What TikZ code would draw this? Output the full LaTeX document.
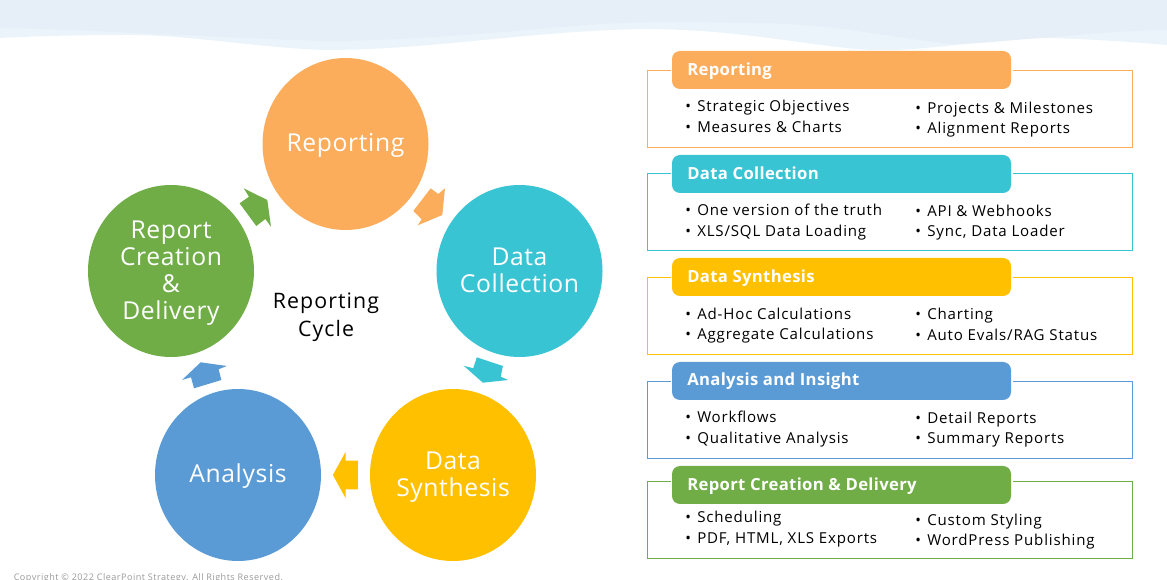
\documentclass[tikz,border=0pt]{standalone}
\usepackage{fontspec}
\setmainfont{Open Sans}
\usepackage{tikz}
\usetikzlibrary{shapes.geometric}
\definecolor{cporange}{HTML}{FBAD5C}
\definecolor{cpcyan}{HTML}{39C4D4}
\definecolor{cpyellow}{HTML}{FFC000}
\definecolor{cpblue}{HTML}{5B9BD5}
\definecolor{cpgreen}{HTML}{70AD47}
\definecolor{cpwavea}{HTML}{E6EEF8}
\definecolor{cpwaveb}{HTML}{EBF4FB}
\newcommand{\itemdot}{\makebox[9pt][l]{•}}
\tikzset{
    cyclenode/.style={ellipse, minimum width=124.5pt, minimum height=129pt, inner sep=0pt},
    cycletext/.style={align=center, text=white, inner sep=0pt, font=\fontsize{18.5}{20.3}\selectfont\addfontfeature{LetterSpace=2.5}},
    framebox/.style={draw=#1, line width=0.75pt},
    headbox/.style={fill=#1, rounded corners=6pt},
    headtext/.style={text=white, inner sep=0pt, font=\fontsize{12.5}{15}\selectfont\bfseries\addfontfeature{LetterSpace=2}, anchor=base west},
    itemtext/.style={font=\fontsize{11.3}{15}\selectfont\addfontfeature{LetterSpace=5.5}, anchor=base west, inner sep=0pt}
}
\begin{document}
\begin{tikzpicture}[x=0.75pt,y=0.75pt,yscale=-1,xscale=1]
\useasboundingbox (0,0) rectangle (1167,580);
%Wave
\fill[cpwaveb] (0,0) -- (1167,0) -- (1167,45) .. controls (1110,40) and (1060,38) .. (1040,38) .. controls (980,40) and (920,52) .. (870,50) .. controls (800,45) and (740,29) .. (640,29) .. controls (520,32) and (430,50) .. (325,50) .. controls (260,48) and (190,35) .. (130,35) .. controls (80,35) and (40,36) .. (0,38) -- cycle;
\fill[cpwavea] (0,0) -- (1167,0) -- (1167,30) .. controls (1110,31) and (1070,36) .. (1040,38) .. controls (1010,40) and (980,44) .. (950,44) .. controls (880,36) and (830,23) .. (750,23) .. controls (680,22) and (640,22) .. (600,24) .. controls (520,30) and (420,41) .. (325,41) .. controls (220,38) and (100,30) .. (0,28) -- cycle;
%Cycle
\node[cyclenode, fill=cporange] (reporting) at (345.5,144) {};
\node[cyclenode, fill=cpcyan] (collection) at (519.5,271) {};
\node[cyclenode, fill=cpyellow] (synthesis) at (453,475) {};
\node[cyclenode, fill=cpblue] (analysis) at (238,475) {};
\node[cyclenode, fill=cpgreen] (delivery) at (171,271) {};
\node[cycletext] (reportinglabel) at (345.5,145) {Reporting};
\node[cycletext] (collectionlabel) at (519.5,270) {Data\\Collection};
\node[cycletext] (synthesislabel) at (453,477) {Data\\Synthesis};
\node[cycletext] (analysislabel) at (238,476) {Analysis};
\node[cycletext] (deliverylabel) at (171,273) {Report\\Creation\\\&\\Delivery};
\node[align=center, inner sep=0pt, font=\fontsize{16}{21}\selectfont\addfontfeature{LetterSpace=5}] (cycle) at (326,317) {Reporting\\Cycle};
%Arrows
\fill[cporange] (430.7,188.3) -- (438.3,194) -- (445,188.3) -- (442.3,215) -- (417.7,225.3) -- (421.7,219.3) -- (413.3,211) -- cycle;
\fill[cpcyan] (476.8,357.3) -- (502.9,366) -- (500.7,376.7) -- (508.2,380) -- (482.9,382.7) -- (463.6,365.7) -- (473.2,368.3) -- cycle;
\fill[cpyellow] (332.9,475) -- (345.7,451.7) -- (345.7,460.7) -- (357.9,460.7) -- (357.9,489.3) -- (345.7,489.3) -- (345.7,498.3) -- cycle;
\fill[cpblue] (182,380) -- (200.7,362.3) -- (226.8,366) -- (218.6,369.3) -- (221.4,380) -- (194,388.3) -- (191,377.3) -- cycle;
\fill[cpgreen] (243.7,188.3) -- (267.3,200) -- (271,226.7) -- (265.3,219) -- (256.3,226) -- (239.6,203.3) -- (249,196.7) -- cycle;
%Reporting panel
\draw[framebox=cporange] (647.5,70.5) rectangle (1132.5,147.5);
\fill[white] (671,60) rectangle (1012.5,95);
\fill[headbox=cporange] (672,51) rectangle (1011,89);
\node[headtext] (headreporting) at (687,75.7) {Reporting};
\node[itemtext] (a1) at (685,111.7) {\itemdot Strategic Objectives};
\node[itemtext] (a2) at (685,132.7) {\itemdot Measures \& Charts};
\node[itemtext] (a3) at (915,113.7) {\itemdot Projects \& Milestones};
\node[itemtext] (a4) at (915,133.7) {\itemdot Alignment Reports};
%Data Collection panel
\draw[framebox=cpcyan] (647.5,173.5) rectangle (1132.5,250.5);
\fill[white] (671,165) rectangle (1012.5,199);
\fill[headbox=cpcyan] (672,155) rectangle (1011,193);
\node[headtext] (headcollection) at (687,179.3) {Data Collection};
\node[itemtext] (b1) at (685,215.7) {\itemdot One version of the truth};
\node[itemtext] (b2) at (685,236.7) {\itemdot XLS/SQL Data Loading};
\node[itemtext] (b3) at (915,216.7) {\itemdot API \& Webhooks};
\node[itemtext] (b4) at (915,236.7) {\itemdot Sync, Data Loader};
%Data Synthesis panel
\draw[framebox=cpyellow] (647.5,277.5) rectangle (1132.5,354.5);
\fill[white] (671,268) rectangle (1012.5,302);
\fill[headbox=cpyellow] (672,258) rectangle (1011,296);
\node[headtext] (headsynthesis) at (687,282.3) {Data Synthesis};
\node[itemtext] (c1) at (685,319.3) {\itemdot Ad-Hoc Calculations};
\node[itemtext] (c2) at (685,340) {\itemdot Aggregate Calculations};
\node[itemtext] (c3) at (915,320) {\itemdot Charting};
\node[itemtext] (c4) at (915,340.3) {\itemdot Auto Evals/RAG Status};
%Analysis panel
\draw[framebox=cpblue] (647.5,381.5) rectangle (1132.5,458.5);
\fill[white] (671,372) rectangle (1012.5,406);
\fill[headbox=cpblue] (672,362) rectangle (1011,400);
\node[headtext] (headanalysis) at (687,386) {Analysis and Insight};
\node[itemtext] (d1) at (685,422.3) {\itemdot Workflows};
\node[itemtext] (d2) at (685,443.3) {\itemdot Qualitative Analysis};
\node[itemtext] (d3) at (915,423.3) {\itemdot Detail Reports};
\node[itemtext] (d4) at (915,443.3) {\itemdot Summary Reports};
%Report Creation panel
\draw[framebox=cpgreen] (647.5,481.5) rectangle (1132.5,558.5);
\fill[white] (671,472) rectangle (1012.5,510);
\fill[headbox=cpgreen] (672,466) rectangle (1011,504);
\node[headtext] (headdelivery) at (687,490) {Report Creation \& Delivery};
\node[itemtext] (e1) at (685,522.7) {\itemdot Scheduling};
\node[itemtext] (e2) at (685,543.7) {\itemdot PDF, HTML, XLS Exports};
\node[itemtext] (e3) at (915,525.3) {\itemdot Custom Styling};
\node[itemtext] (e4) at (915,545.3) {\itemdot WordPress Publishing};
%Footer
\node[text=black!40, font=\fontsize{6.8}{8}\selectfont\addfontfeature{LetterSpace=5.4}, anchor=base west, inner sep=0pt] (copyright) at (13.5,580) {Copyright © 2022 ClearPoint Strategy.  All Rights Reserved.};
\end{tikzpicture}
\end{document}
